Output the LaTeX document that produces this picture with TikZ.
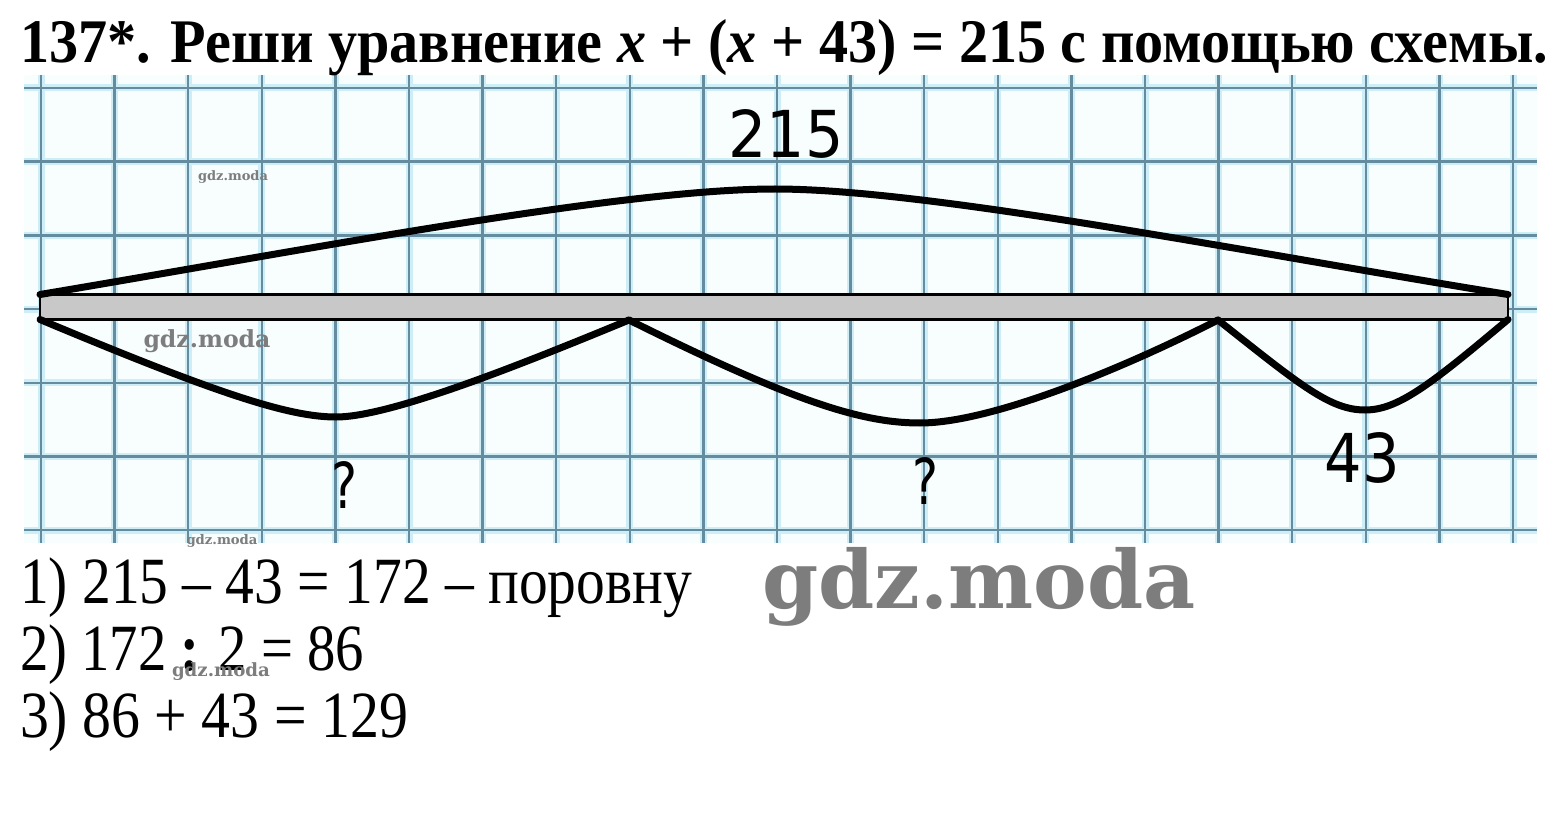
\documentclass[tikz,border=0pt]{standalone}
\usepackage{fontspec}
\usepackage{graphicx}
\setmainfont{Liberation Serif}
\newfontfamily\lblfont{DejaVu Sans}
\newfontfamily\wmfont{DejaVu Serif}
\definecolor{gridcore}{RGB}{100,140,158}
\definecolor{gridhalo}{RGB}{205,238,246}
\definecolor{gridbg}{RGB}{248,253,254}
\definecolor{barfill}{RGB}{200,200,200}
\definecolor{wmgray}{RGB}{125,125,125}
\begin{document}
\begin{tikzpicture}[x=1pt,y=-1pt,
  arcline/.style={line width=7pt, line cap=round, line join=round},
  txt/.style={inner sep=0pt, outer sep=0pt},
  halo/.style={gridhalo, line width=7pt},
  core/.style={gridcore, line width=2.4pt},
  wm/.style={txt, text=wmgray}]
\useasboundingbox (0,0) rectangle (1568,818);
\fill[white] (0,0) rectangle (1568,818);
% grid
\fill[gridbg] (24,75) rectangle (1537,543);
\foreach \k in {0,...,20} {\draw[halo] ({41+73.6*\k},75) -- ({41+73.6*\k},543);}
\foreach \k in {0,...,6} {\draw[halo] (24,{88+73.7*\k}) -- (1537,{88+73.7*\k});}
\foreach \k in {0,...,20} {\draw[core] ({41+73.6*\k},75) -- ({41+73.6*\k},543);}
\foreach \k in {0,...,6} {\draw[core] (24,{88+73.7*\k}) -- (1537,{88+73.7*\k});}
% bar
\node[draw, line width=2.5pt, fill=barfill, minimum width=1468pt, minimum height=25pt,
      inner sep=0pt, outer sep=0pt, anchor=north west] (bar) at (40,294.5) {};
\coordinate (top) at (775,189);
\coordinate (m1) at (336,417);
\coordinate (j1) at (629,320);
\coordinate (m2) at (920,423);
\coordinate (j2) at (1218,320);
\coordinate (m3) at (1365,410);
\draw[arcline] (bar.north west) .. controls (300,251) and (620,189) .. (top)
   .. controls (930,189) and (1250,253) .. (bar.north east);
\draw[arcline] (bar.south west) .. controls (220,395) and (290,417) .. (m1)
   .. controls (390,417) and (520,365) .. (j1);
\draw[arcline] (j1) .. controls (790,400) and (860,423) .. (m2)
   .. controls (990,423) and (1120,370) .. (j2);
\draw[arcline] (j2) .. controls (1300,385) and (1330,410) .. (m3)
   .. controls (1398,410) and (1430,385) .. (bar.south east);
% labels
\node[txt] (l215) at (786,134) {\resizebox{115pt}{48pt}{\lblfont 215}};
\node[txt] (q1) at (344,485) {\resizebox{26pt}{47pt}{\lblfont ?}};
\node[txt] (q2) at (925,481) {\resizebox{26pt}{47pt}{\lblfont ?}};
\node[txt] (l43) at (1362,458) {\resizebox{75pt}{50pt}{\lblfont 43}};
% title
\node[txt, anchor=base west] (title) at (20,63) {\resizebox{1528pt}{\height}{\fontsize{62pt}{62pt}\selectfont\bfseries 137*. Реши уравнение \textit{x} + (\textit{x} + 43) = 215 с помощью схемы.}};
% solution
\node[txt, anchor=base west] (s1) at (20,603) {\resizebox{672pt}{\height}{\fontsize{66pt}{66pt}\selectfont 1) 215 – 43 = 172 – поровну}};
\node[txt, anchor=base west] (s2) at (20,670) {\resizebox{344pt}{\height}{\fontsize{66pt}{66pt}\selectfont 2) 172 \textbf{:} 2 = 86}};
\node[txt, anchor=base west] (s3) at (20,737) {\resizebox{388pt}{\height}{\fontsize{66pt}{66pt}\selectfont 3) 86 + 43 = 129}};
% watermarks
\node[wm] (w1) at (233,177) {\resizebox{70pt}{!}{\wmfont\bfseries gdz.moda}};
\node[wm] (w2) at (207,341) {\resizebox{127pt}{!}{\wmfont\bfseries gdz.moda}};
\node[wm] (w3) at (222,541) {\resizebox{71pt}{!}{\wmfont\bfseries gdz.moda}};
\node[wm] (w4) at (221,672) {\resizebox{98pt}{!}{\wmfont\bfseries gdz.moda}};
\node[wm] (w5) at (979,587) {\resizebox{433pt}{!}{\wmfont\bfseries gdz.moda}};
\end{tikzpicture}
\end{document}
